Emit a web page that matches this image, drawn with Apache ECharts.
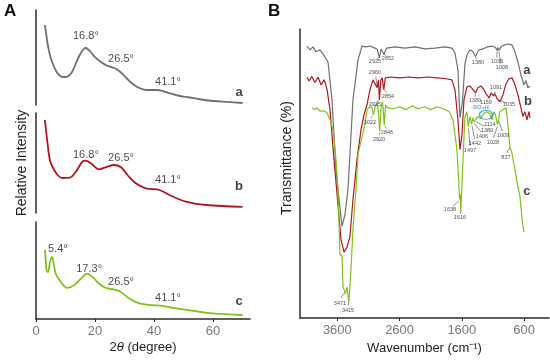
<!DOCTYPE html>
<html><head><meta charset="utf-8">
<script src="https://cdn.jsdelivr.net/npm/echarts@6/dist/echarts.min.js"></script>
<style>html,body{margin:0;padding:0;background:#fff}#c{width:550px;height:360px}</style>
</head><body><div id="c"></div>
<script>
// ---------- Panel A: XRD (2θ, relative intensity in each sub-panel) ----------
const xrdTicks = [0, 20, 40, 60];
const xrdA = [[3,84.2],[3.5,73.7],[4,63.2],[4.5,55.8],[5,49.5],[6,41.1],[7,34.7],[8,31.1],[9,29.5],[10,29.5],[11,30.5],[12,33.7],[13,40],[14,47.4],[15,53.7],[16,58.4],[16.8,60],[17.5,58.9],[18.5,55.8],[20,50.5],[22,45.3],[24,41.6],[26.5,38.9],[28,36.3],[30,30.5],[32,24.2],[34,19.5],[36,16.8],[38,15.8],[41,15.8],[43,14.7],[45,12.6],[48,10],[52,7.9],[56,5.8],[60,4.2],[65,3.2],[70,2.1]];
const xrdB = [[3,93],[3.9,70],[4.7,53],[5.6,46],[7.3,38],[8.9,35],[11.4,35.3],[13.5,41.3],[15.7,51.3],[16.8,52.3],[18.6,49.7],[21.4,43.7],[23.6,45.7],[26.5,48],[28.8,45.7],[31,38],[33.8,29.7],[37.2,24.7],[41.8,23],[45.2,18],[50.8,11.3],[57.6,8],[70,6.2]];
const xrdC = [[3,71.4],[3.3,60.2],[3.6,50],[4.1,48.3],[4.7,58.5],[5.4,64],[5.9,58.5],[6.7,46.6],[8.4,38.1],[10.6,32],[12.9,34.7],[15.2,41.5],[17.3,46.8],[19.2,43.2],[21.4,36.4],[23.7,32],[26.5,30.3],[28.8,27.9],[31.6,21.1],[35,16],[39.5,14.3],[42.9,13.6],[46.3,11.5],[53.1,8.5],[59.9,5.8],[70,4.1]];
const xrdLabelsA = [[16.9,72.6,'16.8°'],[28.8,48.4,'26.5°'],[44.7,24.2,'41.1°']];
const xrdLabelsB = [[16.9,58,'16.8°'],[28.8,55,'26.5°'],[44.7,33,'41.1°']];
const xrdLabelsC = [[7.4,72.4,'5.4°'],[18,52,'17.3°'],[28.8,37.8,'26.5°'],[44.7,21.4,'41.1°']];
const xrdSampleLabels = [[68.8,13.7,'a'],[68.8,27,'b'],[68.8,18.4,'c']];

// ---------- Panel B: FTIR (wavenumber, transmittance) ----------
const ftirTicks = [600, 1600, 2600, 3600];
const ftirA = [[4088,94.1],[4039,92.8],[3991,93.8],[3943,92.1],[3879,92.8],[3831,91.4],[3799,91.0],[3750,88.6],[3686,75.5],[3622,51.4],[3590,44.5],[3525,31.7],[3477,35.9],[3429,44.5],[3349,75.5],[3268,89.3],[3204,94.1],[3140,93.8],[3076,94.1],[2996,93.4],[2960,93.0],[2925,90.0],[2895,93.1],[2852,91.2],[2810,93.4],[2674,93.8],[2514,93.4],[2353,93.8],[2193,93.1],[2032,93.4],[1872,93.8],[1759,93.4],[1711,91.7],[1663,85.9],[1630,69.3],[1590,75],[1550,88],[1518,91.0],[1470,92.8],[1422,92.1],[1380,90.5],[1325,92.8],[1261,93.1],[1197,93.8],[1117,94.1],[1060,93.6],[1035,92.6],[1020,93.6],[1008,92.6],[960,94.1],[860,94.8],[795,94.5],[747,92.1],[699,88.6],[651,84.1],[603,80.7],[571,82.1],[538,79.7],[506,80.3]];
const ftirB = [[4088,83.4],[4055,82.0],[4039,82.4],[4010,83.6],[3991,83.8],[3960,81.5],[3943,81.7],[3910,83.3],[3895,83.1],[3860,80.6],[3847,81.0],[3815,82.4],[3799,81.7],[3766,79.0],[3718,72.1],[3654,54.8],[3590,39.3],[3542,27.2],[3493,22.8],[3445,24.5],[3397,28.3],[3349,41.0],[3285,54.8],[3220,65.2],[3172,70.3],[3124,73.8],[3076,79.0],[3028,82.4],[3000,82.0],[2960,79.7],[2940,82.4],[2925,75.5],[2900,82.4],[2880,83.1],[2854,79.0],[2830,83.1],[2750,83.4],[2600,83.1],[2450,83.4],[2300,83.1],[2150,83.4],[2000,83.1],[1850,82.8],[1760,82.4],[1711,79.0],[1663,68.6],[1630,58.3],[1598,63.4],[1566,75.5],[1518,80.0],[1470,80.3],[1438,80.7],[1380,77.9],[1342,79.7],[1293,80.3],[1245,79.0],[1213,77.6],[1159,76.2],[1132,77.9],[1091,76.9],[1068,77.6],[1035,75.9],[988,74.8],[940,77.2],[892,81.0],[844,82.8],[795,83.1],[747,80.7],[699,77.2],[651,72.8],[619,69.7],[587,71.4],[554,68.6],[522,71.4],[506,69.3]];
const ftirC = [[4007,72.8],[3980,73.2],[3959,72.1],[3930,72.8],[3911,72.4],[3880,71.6],[3863,72.1],[3815,71.7],[3766,71.0],[3718,68.6],[3670,65.2],[3622,54.8],[3590,44.5],[3558,22.1],[3525,21.4],[3509,11.0],[3471,8.3],[3445,10.7],[3415,5.5],[3381,16.9],[3349,30.7],[3301,44.5],[3268,56.6],[3204,62.8],[3156,66.9],[3124,72.1],[3092,72.8],[3050,73.1],[3022,70.3],[2990,73.4],[2960,74.5],[2940,71.4],[2920,64.5],[2900,72.1],[2880,74.8],[2865,72.8],[2846,66.9],[2825,73.8],[2800,72.8],[2700,72.4],[2600,73.1],[2500,72.1],[2400,73.4],[2300,72.4],[2200,73.1],[2100,72.1],[2000,73.1],[1900,72.4],[1800,71.4],[1743,68.6],[1679,58.3],[1647,46.2],[1638,41.0],[1625,42.8],[1616,36.6],[1582,54.8],[1550,69.7],[1518,71.4],[1497,66.2],[1470,69.7],[1442,67.2],[1425,69.3],[1406,67.9],[1380,68.3],[1350,69.7],[1300,69.0],[1250,70.7],[1200,71.4],[1150,70.7],[1114,68.6],[1085,71.4],[1060,70.3],[1028,66.9],[1009,68.6],[990,71.4],[940,72.1],[890,72.8],[860,66.9],[827,59.0],[800,57.6],[747,51.4],[699,45.5],[667,42.1],[619,31.7],[600,29.7]];
const ftirLabels = [[2996,88.6,'2925'],[2787,89.7,'2852'],[2996,84.8,'2960'],[2787,76.6,'2854'],[2996,73.8,'2925'],[3076,67.6,'3022'],[2931,61.7,'2920'],[2803,64.1,'2846'],[1341,88.3,'1380'],[1036,88.6,'1035'],[956,86.6,'1008'],[1052,79.7,'1091'],[1390,75.2,'1380'],[1213,74.5,'1159'],[844,73.8,'1035'],[1149,66.9,'1114'],[1197,64.8,'1380'],[1277,62.8,'1406'],[1390,60.3,'1442'],[1470,57.9,'1497'],[1100,60.7,'1028'],[940,63.1,'1009'],[892,55.5,'827'],[1791,37.6,'1638'],[1630,34.8,'1616'],[3558,5.2,'3471'],[3429,2.8,'3415']];
// leader lines from each band label to its band: [wn1, T1, wn2, T2]
const ftirLeaders = [[3545,6.9,3490,8.6],[3425,4.4,3418,5.4],[1745,38.6,1645,40.6],[1625,36.1,1618,36.8],[1470,59.5,1492,65.6],[1395,62,1437,66.6],[1290,64.4,1402,67.4],[1230,66.3,1372,67.9],[1090,62.3,1031,66.3],[950,64.7,1006,68.1],[880,57.1,832,58.8],[3070,69.1,3030,70.0],[2928,63.2,2922,64.2],[2810,65.6,2842,66.6],[2968,89.6,2935,90.0],[2812,90.8,2846,91.2],[2982,83.4,2963,80.3],[2800,78.0,2849,79.0],[2968,74.8,2932,75.3],[1360,89.6,1379,90.3],[1036,90.1,1035,92.3],[975,88.0,1004,92.2],[1060,78.4,1086,77.2],[1386,76.6,1381,77.6],[1192,75.8,1164,76.1],[882,74.3,1026,75.6]];
const ftirSampleLabels = [[554,85.5,'a'],[538,74.8,'b'],[554,43.8,'c']];
const so3hLabel = [[1309,72.8,'-SO₃H']];
const so3hCircle = [[1213,70.3]];

const FONT = '"Liberation Sans", Arial, sans-serif';
const GREY = '#6f6f6f', RED = '#b0161e', GREEN = '#7fc31c', AXIS = '#2b2b2b';

const chart = echarts.init(document.getElementById('c'), null, {renderer: 'canvas'});

function hiddenX(i) {
  return {gridIndex: i, type: 'value', min: 0, max: 72.5, show: false};
}
function plainY(i, extra) {
  return Object.assign({gridIndex: i, type: 'value', min: 0, max: 100,
    axisLine: {show: true, onZero: false, lineStyle: {color: AXIS, width: 1.5}},
    axisTick: {show: false}, axisLabel: {show: false}, splitLine: {show: false}}, extra || {});
}
function textSeries(xi, yi, data, style) {
  return {type: 'scatter', xAxisIndex: xi, yAxisIndex: yi, data: data, symbol: 'circle', symbolSize: 1,
    itemStyle: {color: 'rgba(0,0,0,0)'}, silent: true, z: 10,
    label: Object.assign({show: true, position: 'inside', formatter: p => p.data[2],
      fontFamily: FONT, color: '#1a1a1a'}, style)};
}
function xrdLine(i, data, color) {
  return {type: 'line', xAxisIndex: i, yAxisIndex: i, data: data, showSymbol: false, smooth: 0.35,
    lineStyle: {color: color, width: 1.8}, silent: true};
}
function ftirLine(data, color) {
  return {type: 'line', xAxisIndex: 3, yAxisIndex: 3, data: data, showSymbol: false,
    lineStyle: {color: color, width: 1.2}, silent: true};
}

const peakStyle = {fontSize: 11};
const sampleStyle = {fontSize: 13, fontWeight: 'bold', color: '#111'};
const plain = v => String(v);

chart.setOption({
  animation: false,
  backgroundColor: '#fff',
  grid: [
    {left: 36, top: 10, width: 214, height: 95},
    {left: 36, top: 113, width: 214, height: 100},
    {left: 36, top: 222, width: 214, height: 97},
    {left: 300, top: 29, width: 249, height: 290}
  ],
  xAxis: [
    hiddenX(0), hiddenX(1),
    {gridIndex: 2, type: 'value', min: 0, max: 72.5,
      axisLine: {onZero: false, lineStyle: {color: AXIS, width: 1.5}},
      axisTick: {show: true, length: 3, customValues: xrdTicks, lineStyle: {color: AXIS}},
      axisLabel: {customValues: xrdTicks, formatter: plain, color: '#777', fontSize: 13, margin: 6, fontFamily: FONT},
      splitLine: {show: false},
      name: '{n|2}{i|θ}{n| (degree)}', nameLocation: 'middle', nameGap: 22,
      nameTextStyle: {rich: {n: {fontSize: 13, color: '#222', fontFamily: FONT}, i: {fontSize: 13, color: '#222', fontStyle: 'italic', fontFamily: FONT}}}},
    {gridIndex: 3, type: 'value', min: 200, max: 4200, inverse: true,
      axisLine: {onZero: false, lineStyle: {color: AXIS, width: 1.5}},
      axisTick: {show: true, length: 3, customValues: ftirTicks, lineStyle: {color: AXIS}},
      axisLabel: {customValues: ftirTicks, formatter: plain, color: '#777', fontSize: 13, margin: 6, fontFamily: FONT},
      splitLine: {show: false},
      name: 'Wavenumber (cm⁻¹)', nameLocation: 'middle', nameGap: 22,
      nameTextStyle: {fontSize: 13, color: '#222', fontFamily: FONT}}
  ],
  yAxis: [
    plainY(0),
    plainY(1, {name: 'Relative Intensity', nameLocation: 'middle', nameGap: 7,
      nameTextStyle: {fontSize: 14, color: '#222', fontFamily: FONT}}),
    plainY(2),
    plainY(3)
  ],
  graphic: [
    {type: 'text', left: 4, top: 3, style: {text: 'A', font: 'bold 17px ' + FONT, fill: '#111'}},
    {type: 'text', left: 268, top: 3, style: {text: 'B', font: 'bold 17px ' + FONT, fill: '#111'}},
    {type: 'text', x: 287, y: 158, rotation: Math.PI / 2,
      style: {text: 'Transmittance (%)', font: '14px ' + FONT, fill: '#222', textAlign: 'center', textVerticalAlign: 'middle'}}
  ],
  series: [
    xrdLine(0, xrdA, GREY), xrdLine(1, xrdB, RED), xrdLine(2, xrdC, GREEN),
    textSeries(0, 0, xrdLabelsA, peakStyle),
    textSeries(1, 1, xrdLabelsB, peakStyle),
    textSeries(2, 2, xrdLabelsC, peakStyle),
    textSeries(0, 0, [xrdSampleLabels[0]], sampleStyle),
    textSeries(1, 1, [xrdSampleLabels[1]], sampleStyle),
    textSeries(2, 2, [xrdSampleLabels[2]], sampleStyle),
    ftirLine(ftirA, GREY), ftirLine(ftirB, RED), ftirLine(ftirC, GREEN),
    {type: 'custom', xAxisIndex: 3, yAxisIndex: 3, data: ftirLeaders, silent: true, z: 9,
      renderItem: (params, api) => {
        const p1 = api.coord([api.value(0), api.value(1)]);
        const p2 = api.coord([api.value(2), api.value(3)]);
        return {type: 'line', shape: {x1: p1[0], y1: p1[1], x2: p2[0], y2: p2[1]},
          style: {stroke: '#444', lineWidth: 0.6}};
      },
      encode: {x: [0, 2], y: [1, 3]}},
    textSeries(3, 3, ftirLabels, {fontSize: 5.5, color: '#222'}),
    textSeries(3, 3, ftirSampleLabels, sampleStyle),
    textSeries(3, 3, so3hLabel, {fontSize: 6, color: '#2a8fdc', fontWeight: 'bold'}),
    {type: 'scatter', xAxisIndex: 3, yAxisIndex: 3, data: so3hCircle, symbol: 'circle', symbolSize: [13, 9],
      itemStyle: {color: 'rgba(0,0,0,0)', borderColor: '#1f8ce0', borderWidth: 1.2}, silent: true, z: 11}
  ]
});
</script></body></html>
